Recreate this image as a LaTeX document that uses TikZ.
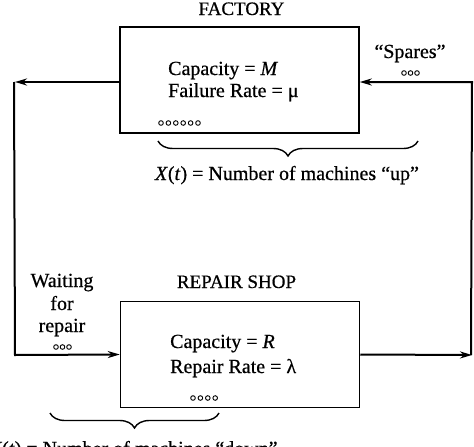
\documentclass[tikz,border=0pt]{standalone}
\usepackage{fontspec}
\setmainfont{Liberation Serif}[FakeBold=0.6]
\usetikzlibrary{arrows.meta,decorations.pathreplacing}
\tikzset{
  boxnode/.style={draw,line width=1.5pt,minimum width=239pt,minimum height=106pt,inner sep=0pt},
  txt/.style={inner sep=0pt,anchor=base west},
  ctxt/.style={inner sep=0pt,anchor=base},
  conn/.style={line width=2pt},
  arr/.style={conn,-{Stealth[length=12pt,width=7pt]}},
  unit/.style={draw,circle,line width=0.9pt,inner sep=0pt,minimum size=4.6pt},
  bracedec/.style={decorate,decoration={brace,mirror,amplitude=15pt},line width=1.4pt}
}
\begin{document}
\begin{tikzpicture}[x=1pt,y=-1pt,font=\fontsize{20}{24}\selectfont]
\useasboundingbox (0,0) rectangle (474,447);
% boxes
\node[boxnode] (factory) at (239.5,80) {};
\node[boxnode] (repair) at (240,354.5) {};
% titles
\node[ctxt,font=\fontsize{19}{23}\selectfont] (ftitle) at (241.5,15) {FACTORY};
\node[ctxt,font=\fontsize{19}{23}\selectfont] (rtitle) at (236.5,288) {REPAIR SHOP};
% factory text
\node[txt] (fcap) at (168,75) {Capacity = \textit{M}};
\node[txt] (frate) at (168,97) {Failure Rate = μ};
% repair text
\node[txt] (rcap) at (170,348) {Capacity = \textit{R}};
\node[txt] (rrate) at (170,373) {Repair Rate = λ};
% spares
\node[ctxt] (spares) at (410,58) {“Spares”};
% waiting
\node[ctxt] (wait1) at (62,287) {Waiting};
\node[ctxt] (wait2) at (62,310) {for};
\node[ctxt] (wait3) at (62,332) {repair};
% circles
\foreach \i in {0,...,5} \node[unit] (fu\i) at (161+7.4*\i,123) {};
\foreach \i in {0,1,2} \node[unit] (su\i) at (404+6.5*\i,73) {};
\foreach \i in {0,1,2} \node[unit] (wu\i) at (56+6.5*\i,347) {};
\foreach \i in {0,...,3} \node[unit] (ru\i) at (193+7.4*\i,398) {};
% corners
\coordinate (tl) at (15,82);
\coordinate (bl) at (15,355);
\coordinate (tr) at (472,82);
\coordinate (br) at (472,355);
% connectors
\draw[arr] ([yshift=-2pt]factory.west) -- (tl);
\draw[arr] ([xshift=-1pt]tl) -- (bl) -- (repair.west);
\draw[arr] (repair.east) -- (br);
\draw[arr] ([xshift=-1pt]br) -- (tr) -- ([yshift=-2pt]factory.east);
% braces
\draw[bracedec] (158,141) -- (418,141);
\draw[bracedec] (50,413) -- (219,413);
% brace labels
\node[ctxt] (xlab) at (287,180) {\textit{X}(\textit{t}) = Number of machines “up”};
\node[txt] (ylab) at (-11,455) {\textit{Y}(\textit{t}) = Number of machines “down”};
\end{tikzpicture}
\end{document}
